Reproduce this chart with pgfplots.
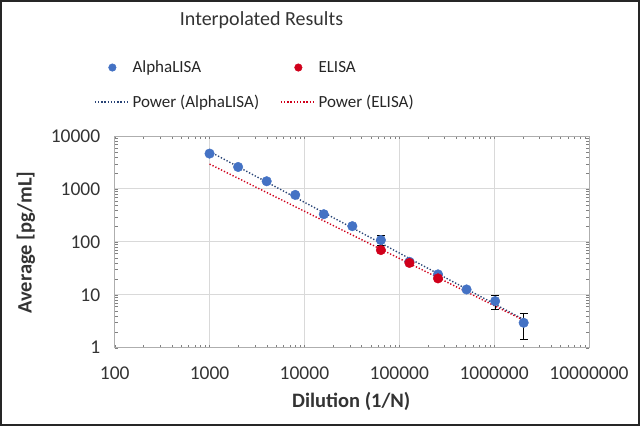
\documentclass[border=0pt]{standalone}
\usepackage{pgfplots}
\pgfplotsset{compat=1.18}
\usepackage{fontspec}
\setmainfont{Carlito}
\definecolor{bluept}{HTML}{4472C4}
\definecolor{redpt}{HTML}{D0001B}
\definecolor{gridc}{HTML}{D9D9D9}
\pgfplotsset{
  markleg/.style={legend image code/.code={\draw[##1, mark size=3.8pt] plot coordinates {(17.5pt,0pt)};}},
  lineleg/.style={legend image code/.code={\draw[##1] (0pt,0pt) -- (35pt,0pt);}},
}
\begin{document}
\begin{tikzpicture}[x=1pt,y=1pt]
\path[use as bounding box] (-114.7,-78.3) rectangle (525.3,347.7);
\draw[line width=2.5pt,black!85] (-113.45,-77.05) rectangle (524.05,346.45);
\begin{axis}[
  at={(0,0)}, anchor=south west,
  scale only axis, width=474.3pt, height=211.7pt,
  xmode=log, ymode=log,
  xmin=100, xmax=10000000, ymin=1, ymax=10000,
  xtick={100,1000,10000,100000,1000000,10000000},
  xticklabels={100,1000,10000,100000,1000000,10000000},
  ytick={1,10,100,1000,10000},
  yticklabels={1,10,100,1000,10000},
  minor xtick={}, minor ytick={},
  major tick length=0pt,
  grid=major,
  major grid style={gridc, line width=1pt},
  axis line style={gridc!80!black, line width=1pt},
  axis lines*=box,
  tick label style={font=\fontsize{19.5}{21}\selectfont, text=black!80},
  xticklabel style={yshift=-16pt},
  yticklabel style={xshift=-11pt},
  legend columns=2,
  legend style={at={(-0.05,1.241)}, anchor=west, draw=none, fill=none,
    font=\fontsize{17}{19}\selectfont, text=black!85,
    cells={anchor=west},
    /tikz/every even column/.append style={column sep=19pt},
    row sep=17pt},
]
\addplot[only marks, mark=*, mark size=4.8pt, color=bluept, markleg,
  error bars/.cd, y dir=both, y explicit, error bar style={black, line width=1pt}, error mark options={black, mark size=4pt, line width=1pt, rotate=90}]
coordinates {
(1000,4656) (2000,2600) (4000,1397) (8000,771) (16000,333) (32000,198)
(64000,108) +- (0,22)
(128000,42) (256000,24.3) (512000,12.6)
(1024000,7.6) +- (0,2.3)
(2048000,2.96) +- (0,1.5)
};
\addlegendentry{AlphaLISA}
\addplot[only marks, mark=*, mark size=4.8pt, color=redpt, markleg]
coordinates {(64000,70) (128000,40) (256000,20.4)};
\addlegendentry{ELISA}
\addplot[bluept!60!black, line width=1.4pt, dash pattern=on 1.3pt off 1.9pt, lineleg]
coordinates {(1000,5100) (2048000,3.4)};
\addlegendentry{Power (AlphaLISA)}
\addplot[redpt, line width=1.4pt, dash pattern=on 1.3pt off 1.9pt, lineleg]
coordinates {(1000,2950) (2048000,3.3)};
\addlegendentry{Power (ELISA)}
\end{axis}
\node[font=\fontsize{20}{22}\selectfont, text=black!80] at (146.8,327.7) {Interpolated Results};
\node[font=\fontsize{20.5}{22}\selectfont\bfseries, text=black!80] at (236.5,-53.3) {Dilution (1/N)};
\node[font=\fontsize{20.5}{22}\selectfont\bfseries, text=black!80, rotate=90] at (-88.7,105.2) {Average [pg/mL]};
\end{tikzpicture}
\end{document}
